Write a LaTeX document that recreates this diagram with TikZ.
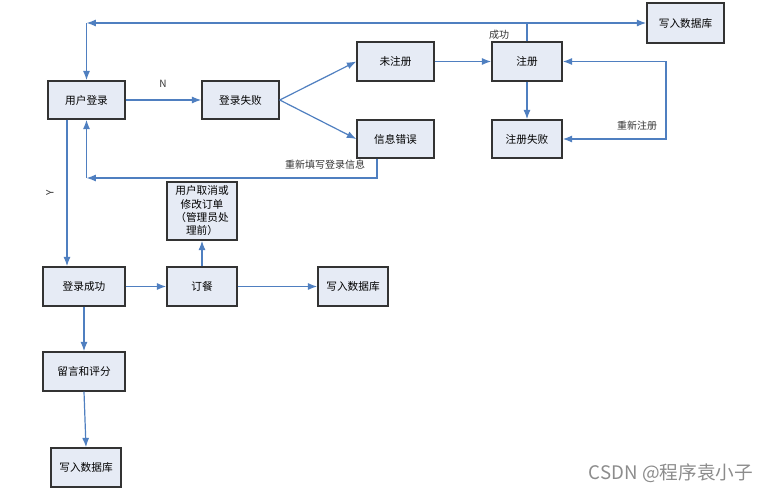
\documentclass[tikz,border=0pt]{standalone}
\usepackage{fontspec}
\newfontfamily\cjk{Noto Sans CJK SC}
\usetikzlibrary{arrows.meta}

\definecolor{boxfill}{HTML}{E6EBF5}
\definecolor{lineblue}{HTML}{4F7FC0}

\begin{document}
\begin{tikzpicture}[x=0.75pt, y=-0.75pt]

	\tikzset{mybox/.style={draw=black!80, fill=boxfill, line width=1.1pt, font=\cjk\fontsize{8}{10}\selectfont, inner sep=1pt}}
	\tikzset{myarrow/.style={-Latex, lineblue, line width=0.9pt}}
	\tikzset{mylabel/.style={font=\cjk\fontsize{7.5}{9}\selectfont, black!80}}

	\useasboundingbox (0,0) rectangle (771,493);

	% login part
	\node[mybox, minimum width=77pt*0.75, minimum height=38pt*0.75] (denglu) at (86.5,100) {用户登录};
	\node[mybox, minimum width=77pt*0.75, minimum height=38pt*0.75] (shibai) at (240.5,100) {登录失败};
	\node[mybox, minimum width=77pt*0.75, minimum height=39pt*0.75] (weizhuce) at (395.5,61.5) {未注册};
	\node[mybox, minimum width=77pt*0.75, minimum height=38pt*0.75] (cuowu) at (395.5,139) {信息错误};
	\node[mybox, minimum width=70pt*0.75, minimum height=39pt*0.75] (zhuce) at (527,61.5) {注册};
	\node[mybox, minimum width=70pt*0.75, minimum height=38pt*0.75] (zcshibai) at (527,139) {注册失败};
	\node[mybox, minimum width=77pt*0.75, minimum height=40pt*0.75] (xieruA) at (685.5,23) {写入数据库};

	% after login
	\node[mybox, minimum width=82pt*0.75, minimum height=39pt*0.75] (chenggong) at (84,286.5) {登录成功};
	\node[mybox, minimum width=70pt*0.75, minimum height=39pt*0.75] (dingcan) at (202,286.5) {订餐};
	\node[mybox, minimum width=70pt*0.75, minimum height=58pt*0.75, align=center] (quxiao) at (202,211)
		{用户取消或\\修改订单\\（管理员处\\理前）};
	\node[mybox, minimum width=70pt*0.75, minimum height=39pt*0.75] (xieruB) at (353,286.5) {写入数据库};
	\node[mybox, minimum width=82pt*0.75, minimum height=39pt*0.75] (liuyan) at (84,371.5) {留言和评分};
	\node[mybox, minimum width=70pt*0.75, minimum height=39pt*0.75] (xieruC) at (86,467.5) {写入数据库};

	\coordinate (topL) at (86.5,23);
	\coordinate (backL) at (86.5,178);
	\coordinate (reR) at (666,100);

	% arrows
	\draw[myarrow] (denglu) -- (shibai);
	\draw[myarrow] (shibai.east) -- (weizhuce.west);
	\draw[myarrow] (shibai.east) -- (cuowu.west);
	\draw[myarrow] (weizhuce) -- (zhuce);
	\draw[myarrow] (zhuce) -- (zcshibai);
	\draw[myarrow] (zhuce.north) |- (xieruA.west);
	\draw[myarrow] (zhuce.north) |- (topL);
	\draw[myarrow] (topL) -- (denglu.north);
	\draw[myarrow, Latex-Latex] (zhuce.east) -| (reR) |- (zcshibai.east);
	\draw[myarrow] ([xshift=-18.5pt*0.75]cuowu.south) |- (backL);
	\draw[myarrow] (backL) -- (denglu.south);
	\draw[myarrow] ([xshift=-19.5pt*0.75]denglu.south) -- ([xshift=-17pt*0.75]chenggong.north);
	\draw[myarrow] (chenggong) -- (dingcan);
	\draw[myarrow] (dingcan) -- (quxiao);
	\draw[myarrow] (dingcan) -- (xieruB);
	\draw[myarrow] (chenggong) -- (liuyan);
	\draw[myarrow] (liuyan.south) -- (xieruC.north);

	% labels
	\node[mylabel] (labN) at (163,84) {N};
	\node[mylabel, rotate=90] (labY) at (50,193) {Y};
	\node[mylabel] (labcg) at (499,35) {成功};
	\node[mylabel] (labre) at (325,165) {重新填写登录信息};
	\node[mylabel] (labzc) at (637,126) {重新注册};

	\node[font=\cjk\fontsize{14}{16}\selectfont, black!45] (mark) at (671,473) {CSDN @程序袁小子};

\end{tikzpicture}
\end{document}
